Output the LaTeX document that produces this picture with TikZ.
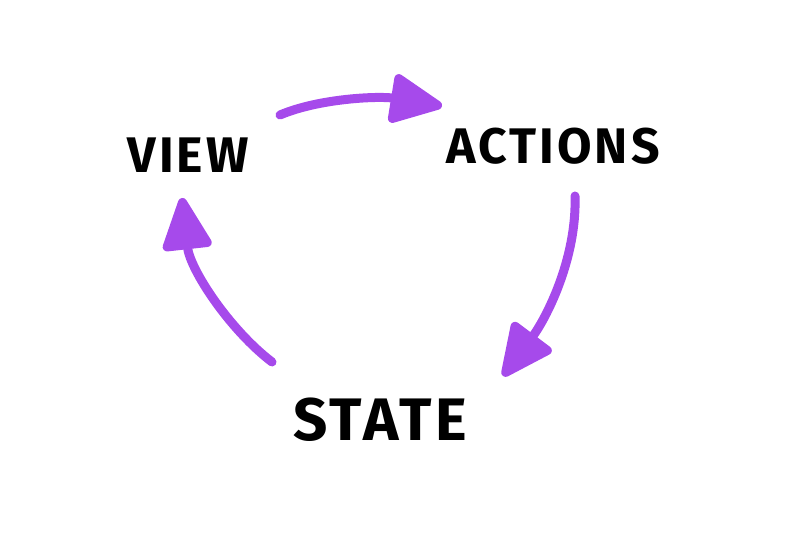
\documentclass[tikz,border=0pt]{standalone}
\usepackage{fontspec}
\setmainfont{Fira Sans}[LetterSpace=6]
\usetikzlibrary{arrows.meta}
\definecolor{purp}{HTML}{A64AEB}
\begin{document}
\begin{tikzpicture}[x=1pt,y=-1pt,
  lbl/.style={font=\bfseries\fontsize{50}{54}\selectfont, inner sep=0pt},
  arr/.style={purp, line width=9pt, line cap=round, -{Triangle[length=58pt,width=52pt,round]}}]
\useasboundingbox (0,0) rectangle (808,534);
\node[lbl] (view) at (188,155) {VIEW};
\node[lbl] (actions) at (553,146) {ACTIONS};
\node[lbl, font=\bfseries\fontsize{60}{64}\selectfont] (state) at (380,420) {STATE};
\coordinate (a1s) at (280,115);
\coordinate (a1e) at (442,106);
\coordinate (a2s) at (575,196);
\coordinate (a2e) at (503,376);
\coordinate (a3s) at (272,362);
\coordinate (a3e) at (182,198);
\draw[arr] (a1s) .. controls (320,98) and (380,96) .. (a1e);
\draw[arr] (a2s) .. controls (577,260) and (545,320) .. (a2e);
\draw[arr] (a3s) .. controls (230,330) and (190,270) .. (a3e);
\end{tikzpicture}
\end{document}
